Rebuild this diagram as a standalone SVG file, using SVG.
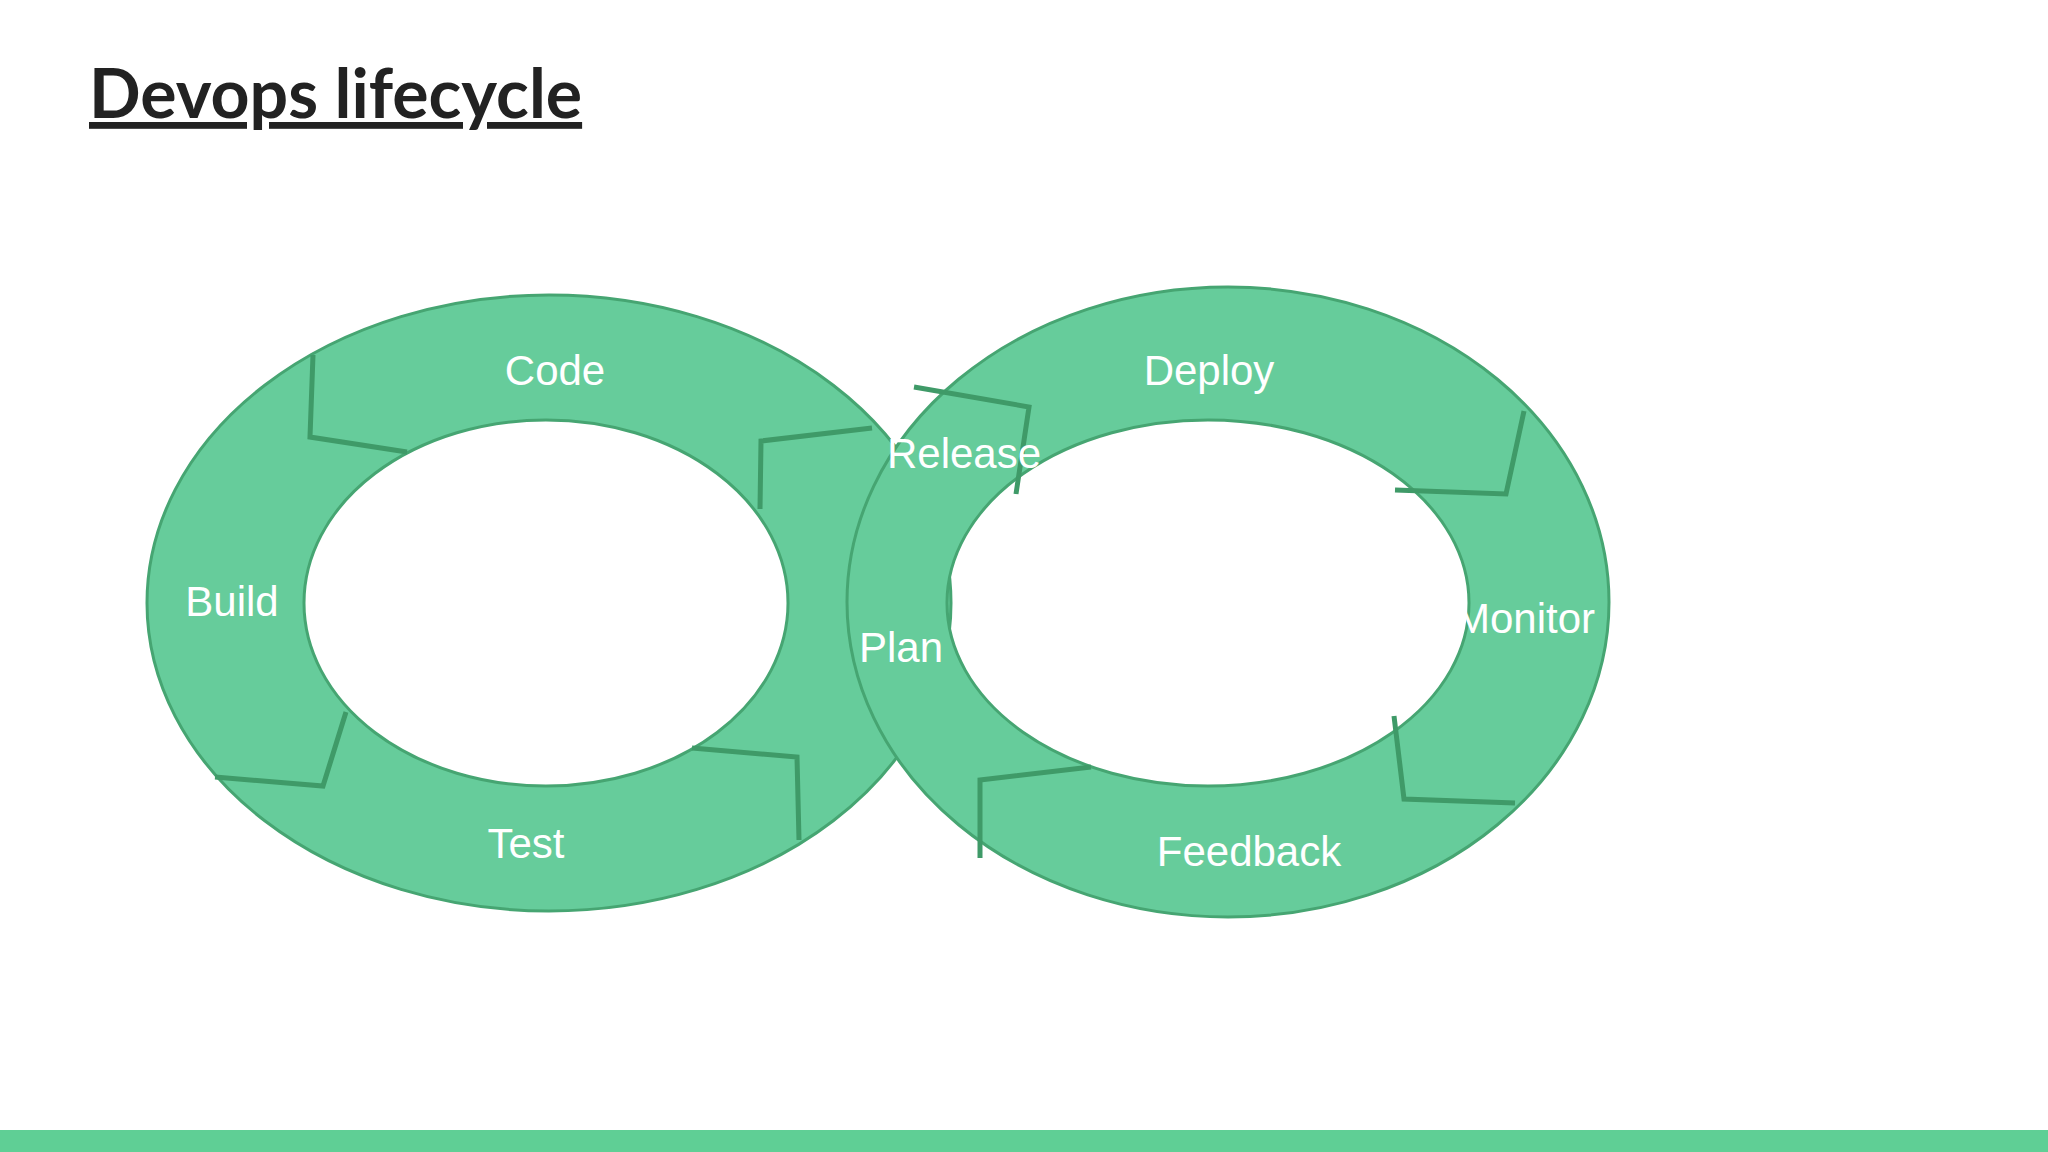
<svg xmlns="http://www.w3.org/2000/svg" width="2048" height="1152" viewBox="0 0 2048 1152">
<style>
.ring{fill:#66cc9b;stroke:#46a572;stroke-width:3;fill-rule:evenodd}
.div{fill:none;stroke:#3f9a68;stroke-width:5}
.lbl{font-family:"Liberation Sans",Arial,sans-serif;fill:#ffffff;font-size:42px;text-anchor:middle}
</style>
<rect width="2048" height="1152" fill="#ffffff"/>
<text x="89" y="118" font-family="Lato,'Liberation Sans',sans-serif" font-weight="bold" font-size="68" fill="#222" text-decoration="underline">Devops lifecycle</text>
<g id="left-ring"><path class="ring" d="M147,603 a402,308 0 1,0 804,0 a402,308 0 1,0 -804,0 Z M304,603 a242,183 0 1,0 484,0 a242,183 0 1,0 -484,0 Z"/></g>
<g id="right-ring"><path class="ring" d="M847,602 a381,315 0 1,0 762,0 a381,315 0 1,0 -762,0 Z M947,603 a261,183 0 1,0 522,0 a261,183 0 1,0 -522,0 Z"/></g>
<g id="connectors">
<polyline class="div" points="313,355 310,437 407,452"/>
<polyline class="div" points="346,712 323,786 215,777"/>
<polyline class="div" points="692,748 797,757 799,840"/>
<polyline class="div" points="872,428 761,441 760,509"/>
<polyline class="div" points="914,387 1029,407 1016,494"/>
<polyline class="div" points="1524,411 1506,494 1395,490"/>
<polyline class="div" points="1394,716 1404,799 1515,803"/>
<polyline class="div" points="1091,767 980,780 980,858"/>
</g>
<g id="code"><text class="lbl" x="555" y="385">Code</text></g>
<g id="deploy"><text class="lbl" x="1209" y="385">Deploy</text></g>
<g id="release"><text class="lbl" x="964" y="468" font-size="38">Release</text></g>
<g id="build"><text class="lbl" x="232" y="616">Build</text></g>
<g id="plan"><text class="lbl" x="901" y="662">Plan</text></g>
<g id="monitor"><text class="lbl" x="1525" y="633" font-size="39">Monitor</text></g>
<g id="test"><text class="lbl" x="526" y="858">Test</text></g>
<g id="feedback"><text class="lbl" x="1249" y="866">Feedback</text></g>
<rect x="0" y="1130" width="2048" height="22" fill="#5fcf95"/>
</svg>
